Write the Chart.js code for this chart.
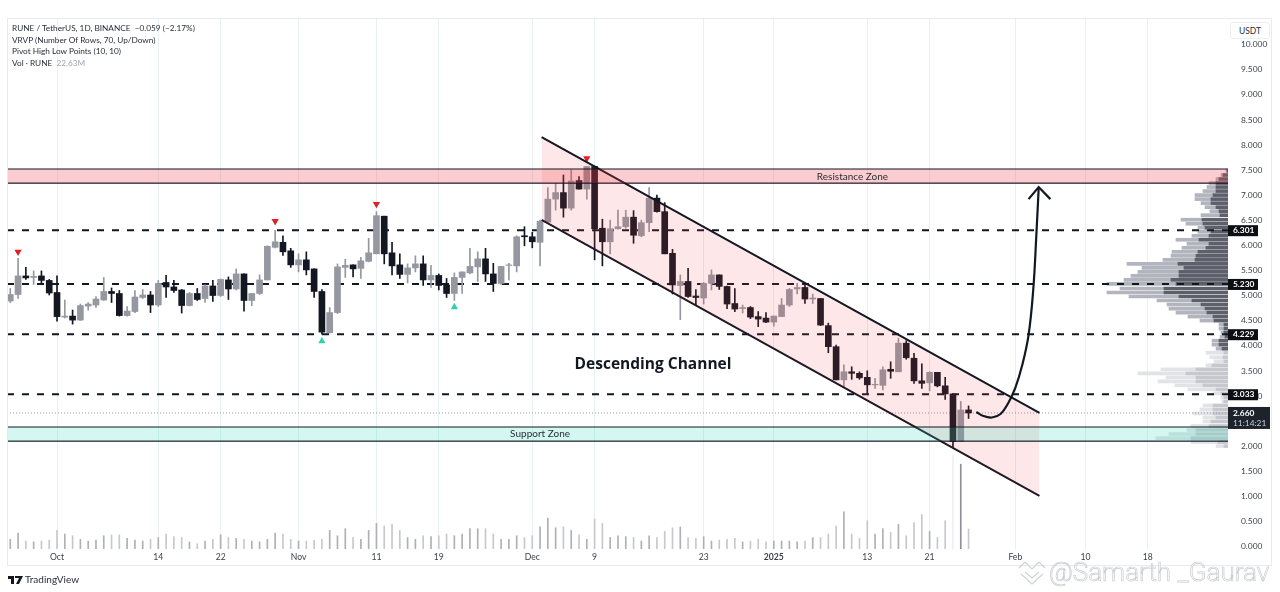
<!DOCTYPE html>
<html>
<head>
<meta charset="utf-8">
<title>RUNE / TetherUS</title>
<script src="https://cdn.jsdelivr.net/npm/chart.js@4/dist/chart.umd.js"></script>
<style>
  html, body { margin: 0; padding: 0; background: #fff; }
  #wrap { position: relative; width: 1280px; height: 592px; overflow: hidden; font-family: Lato, sans-serif; }
  #frame { position: absolute; left: 7px; top: 18px; width: 1265px; height: 548px; border: 1px solid #e9ebef; box-sizing: border-box; }
  #legend { position: absolute; left: 12px; top: 23px; font-size: 8.25px; line-height: 11.7px; color: #2a2e39; }
  #legend span { color: #a3a6af; }
  #unit { position: absolute; left: 1230px; top: 22px; width: 40px; height: 17px; box-sizing: border-box; border: 1px solid #eceef2; border-radius: 3px; background: #fff;
          font-size: 8.5px; line-height: 17px; text-align: center; color: #2a2e39; }
  #brand { position: absolute; left: 8px; top: 573px; font-size: 10px; line-height: 12px; color: #2a2e39; }
  #brand svg { vertical-align: -1px; margin-right: 2px; }
  #mark { position: absolute; left: 1049px; top: 555px; font-family: Roboto, sans-serif; font-weight: 300; font-size: 26px; line-height: 34px;
          color: rgba(255,255,255,.6); -webkit-text-stroke: 0.7px #c9cbd0; white-space: nowrap; }
  #markLogo { position: absolute; left: 1018px; top: 559px; }
</style>
</head>
<body>
<div id="wrap">
  <canvas id="chart" width="1280" height="592"></canvas>
  <div id="frame"></div>
  <div id="legend">
    RUNE / TetherUS, 1D, BINANCE &nbsp;−0.059 (−2.17%)<br>
    VRVP (Number Of Rows, 70, Up/Down)<br>
    Pivot High Low Points (10, 10)<br>
    Vol · RUNE &nbsp;<span>22.63M</span>
  </div>
  <div id="unit">USDT</div>
  <div id="brand"><svg width="15" height="8" viewBox="0 0 15 8"><path d="M0 0h6v8H3V3H0zM7 0h8l-4 8H8l3-6H7z" fill="#131722"/></svg>TradingView</div>
  <svg id="markLogo" width="28" height="26" viewBox="0 0 28 26" fill="none" stroke="#cfd1d5" stroke-width="1.2">
    <path d="M1 9l6-6 7 7 7-7 6 6"/><path d="M7 13l7 6 7-6"/><path d="M3 15l11 10 11-10"/>
  </svg>
  <div id="mark">@Samarth _Gaurav</div>
</div>

<script>
// ── Datos: velas diarias (día 0 = 1 Oct 2024) ─────────────────
const candleDays = [
  -6,-5,-4,-3,-2,-1,
  0,1,2,3,4,5,6,7,8,9,
  10,11,12,13,14,15,16,17,18,19,
  20,21,22,23,24,25,26,27,28,29,
  30,31,32,33,34,35,36,37,38,39,
  40,41,42,43,44,45,46,47,48,49,
  50,51,52,53,54,55,56,57,58,59,
  60,61,62,63,64,65,66,67,68,69,
  70,71,72,73,74,75,76,77,78,79,
  80,81,82,83,84,85,86,87,88,89,
  90,91,92,93,94,95,96,97,98,99,
  100,101,102,103,104,105,106,107,108,109,
  110,111,112,113,114,115,116,117];
const opens = [
  4.89,5.02,5.39,5.36,5.39,5.30,
  5.06,4.57,4.59,4.51,4.79,4.81,4.91,5.08,5.04,4.60,
  4.68,4.96,5.01,4.81,5.26,5.17,5.11,4.80,5.04,4.94,
  5.19,5.00,5.31,5.13,5.43,4.90,5.04,5.31,5.96,6.06,
  5.89,5.61,5.71,5.53,5.08,4.26,4.66,5.56,5.61,5.54,
  5.68,5.83,6.58,5.85,5.61,5.42,5.55,5.63,5.31,5.40,
  5.21,5.04,5.36,5.45,5.57,5.73,5.43,5.24,5.60,5.59,
  6.19,6.17,6.06,6.46,6.92,7.05,6.74,7.29,7.12,7.57,
  6.34,6.07,6.33,6.37,6.56,6.19,6.45,6.94,6.67,5.84,
  5.20,5.28,4.99,4.95,5.24,5.41,5.18,4.84,4.74,4.76,
  4.58,4.55,4.47,4.58,4.81,5.13,5.16,4.93,4.94,4.40,
  3.98,3.32,3.48,3.45,3.37,3.22,3.21,3.53,3.48,4.05,
  3.75,3.30,3.26,3.47,3.20,3.04,2.09,2.72];
const highs = [
  5.14,5.74,5.56,5.49,5.49,5.32,
  5.39,4.91,4.71,4.83,4.86,4.98,5.36,5.15,5.10,4.78,
  5.10,5.12,5.08,5.30,5.40,5.30,5.12,5.06,5.14,5.21,
  5.30,5.33,5.37,5.53,5.43,5.04,5.41,5.99,6.30,6.19,
  5.94,5.83,5.87,5.53,5.12,4.76,5.63,5.72,5.61,5.76,
  6.14,6.67,6.58,6.06,5.83,5.63,5.79,5.79,5.60,5.43,
  5.34,5.45,5.47,5.94,5.87,5.94,5.64,5.58,5.64,6.19,
  6.37,6.26,6.50,7.15,7.23,7.40,7.50,7.37,7.57,7.58,
  6.52,6.50,6.70,6.70,6.69,6.50,7.15,7.00,6.85,5.92,
  5.41,5.54,5.12,5.26,5.51,5.41,5.19,5.14,4.81,4.78,
  4.68,4.66,4.59,4.94,5.14,5.24,5.24,5.03,4.94,4.45,
  4.01,3.62,3.58,3.48,3.50,3.35,3.58,3.68,4.15,4.10,
  3.85,3.64,3.48,3.47,3.37,3.04,2.89,2.80];
const lows = [
  4.86,4.94,5.32,5.22,5.23,5.01,
  4.49,4.55,4.43,4.50,4.71,4.76,4.90,4.86,4.59,4.59,
  4.66,4.94,4.66,4.78,4.96,5.06,4.65,4.79,4.90,4.86,
  4.88,4.98,4.92,5.11,4.69,4.80,5.02,5.31,5.95,5.80,
  5.56,5.47,5.41,4.96,4.23,4.25,4.64,5.36,5.37,5.34,
  5.67,5.83,5.63,5.41,5.34,5.25,5.47,5.20,5.16,5.11,
  4.96,4.90,5.04,5.43,5.28,5.28,5.08,5.22,5.31,5.47,
  5.99,5.95,5.59,6.45,6.70,6.56,6.70,7.12,6.92,5.71,
  5.59,5.83,6.32,6.34,6.04,6.17,6.27,6.66,5.83,5.03,
  4.52,4.96,4.81,4.83,5.11,5.12,4.74,4.68,4.65,4.54,
  4.38,4.46,4.39,4.58,4.78,5.03,4.84,4.84,4.40,3.86,
  3.32,3.18,3.33,3.33,3.05,3.15,3.12,3.35,3.48,3.73,
  3.25,3.15,3.10,3.18,2.93,1.99,2.09,2.55];
const closes = [
  5.02,5.39,5.35,5.38,5.30,5.05,
  4.58,4.59,4.51,4.80,4.83,4.93,5.08,5.04,4.60,4.69,
  4.97,5.01,4.81,5.24,5.17,5.10,4.80,5.04,4.92,5.19,
  5.00,5.32,5.13,5.43,4.90,5.04,5.31,5.98,6.07,5.87,
  5.61,5.71,5.51,5.08,4.27,4.66,5.57,5.60,5.53,5.69,
  5.85,6.59,5.83,5.59,5.42,5.55,5.63,5.31,5.40,5.20,
  5.04,5.36,5.47,5.58,5.73,5.43,5.24,5.58,5.61,6.17,
  6.17,6.07,6.48,6.92,7.05,6.74,7.28,7.12,7.57,6.33,
  6.07,6.33,6.37,6.56,6.20,6.45,6.94,6.67,5.83,5.21,
  5.28,4.98,4.96,5.24,5.41,5.18,4.83,4.73,4.76,4.57,
  4.53,4.47,4.59,4.81,5.12,5.16,4.93,4.95,4.41,3.98,
  3.32,3.48,3.45,3.36,3.22,3.23,3.52,3.49,4.05,3.76,
  3.30,3.25,3.47,3.20,3.04,2.09,2.72,2.66];
const volumes = [
  11,18,9,8,9,10,
  21,17,15,11,9,10,15,16,16,12,
  10,9,11,13,17,14,13,8,6,9,
  11,16,13,12,11,9,8,11,18,17,
  11,9,9,10,11,21,15,23,13,11,
  21,29,26,28,21,13,11,15,14,15,
  17,15,17,23,23,23,17,11,11,15,
  13,15,25,35,24,25,21,16,11,34,
  29,13,15,14,13,9,15,13,20,24,
  25,13,12,14,9,10,11,12,8,9,
  11,8,9,9,9,8,9,13,13,17,
  26,42,17,12,32,17,23,19,28,15,
  30,39,20,13,32,106,96,22.63];

// ── Perfil de volumen (VRVP) ──────────────────────────────────
const vpPrices = [
  2.00,2.08,2.16,2.24,2.32,2.40,2.49,2.57,2.65,2.73,
  2.81,2.89,2.97,3.05,3.13,3.21,3.29,3.37,3.45,3.53,
  3.61,3.69,3.77,3.86,3.94,4.02,4.10,4.18,4.26,4.34,
  4.42,4.50,4.58,4.66,4.74,4.82,4.90,4.98,5.06,5.14,
  5.23,5.31,5.39,5.47,5.55,5.63,5.71,5.79,5.87,5.95,
  6.03,6.11,6.19,6.27,6.35,6.43,6.51,6.60,6.68,6.76,
  6.84,6.92,7.00,7.08,7.16,7.24,7.32,7.40,7.48];
const vpInner = [
  4,10,37,32,32,19,17,12,15,15,
  15,4,4,7,12,25,32,32,42,32,
  16,4,5,4,6,9,9,3,4,4,
  4,14,15,21,23,27,36,49,64,64,
  52,57,49,49,44,50,33,32,30,22,
  19,29,19,17,23,25,26,8,9,12,
  17,17,15,12,12,12,9,5,1];
const vpOuter = [
  8,27,35,27,9,18,8,13,20,13,
  10,2,3,8,28,28,38,30,48,35,
  6,10,13,18,6,7,7,5,3,5,
  5,14,25,31,36,34,35,50,57,44,
  69,47,48,41,42,51,32,25,26,24,
  22,23,17,13,7,17,21,19,9,11,
  10,16,18,13,9,7,3,2,1];

// ── Niveles, zonas y anotaciones ──────────────────────────────
const dayMin = -6.42;
const dayMax = 150.3;
const dashedLevels = [6.301, 5.23, 4.229, 3.033];
const lastPrice = 2.66;
const lastCountdown = '11:14:21';
const resistanceZone = [7.24, 7.52];
const supportZone = [2.10, 2.38];
const channelDays = [62.2, 126.1];
const channelTop = [8.157, 2.66];
const channelBottom = [6.504, 1.006];
const arrowDays = [118.0, 118.9, 120.0, 121.1, 122.1, 123.0, 123.9, 124.7, 125.3, 125.7, 126.0];
const arrowPrices = [2.68, 2.60, 2.57, 2.64, 2.86, 3.16, 3.62, 4.21, 5.11, 6.2, 7.14];
const arrowHeadDays = [124.7, 126.0, 127.5];
const arrowHeadPrices = [6.92, 7.16, 6.92];
const pivotHighDays = [-5, 28, 41, 68];
const pivotHighPrices = [5.87, 6.48, 6.82, 7.73];
const pivotLowDays = [34, 51];
const pivotLowPrices = [4.09, 4.77];

const tickDays = [0, 13, 21, 31, 41, 49, 61, 69, 83, 92, 104, 112, 123, 132, 140];
const tickLabels = ['Oct', '14', '22', 'Nov', '11', '19', 'Dec', '9', '23', '2025', '13', '21', 'Feb', '10', '18'];
const priceTicks = [0, 0.5, 1, 1.5, 2, 2.5, 3, 3.5, 4, 4.5, 5, 5.5, 6, 6.5, 7, 7.5, 8, 8.5, 9, 9.5, 10];

const chartTexts = [
  { text: 'Descending Channel', day: 76.5, price: 3.62, font: 'bold 15.5px "Open Sans"', color: '#131722' },
  { text: 'Resistance Zone', day: 102.1, price: 7.37, font: '10px Lato', color: '#2a2e39' },
  { text: 'Support Zone', day: 62.0, price: 2.24, font: '10px Lato', color: '#2a2e39' },
];

// ── Colores ───────────────────────────────────────────────────
const UP_COLOR = '#9598a1';
const DOWN_COLOR = '#131722';
const LINE_COLOR = '#131722';

const isUp = i => closes[i] >= opens[i];
const candleColor = ctx => isUp(ctx.dataIndex) ? UP_COLOR : DOWN_COLOR;

function volumeColor(ctx) {
  const i = ctx.dataIndex;
  if (volumes[i] > 100 && !isUp(i)) return '#eeeff1';
  if (volumes[i] > 90) return '#8f9197';
  return isUp(i) ? '#aeb0b6' : '#c6c8cd';
}

const vpInnerColor = ctx => vpPrices[ctx.dataIndex] >= 3.94 ? '#5d606b' : '#c6c8cd';
const vpOuterColor = ctx => vpPrices[ctx.dataIndex] >= 3.94 ? '#b2b5be' : '#e2e3e7';

// ── Helpers ───────────────────────────────────────────────────
function hLine(price, extra) {
  return Object.assign({
    type: 'line',
    data: [{ x: dayMin, y: price }, { x: dayMax, y: price }],
    borderColor: LINE_COLOR,
    borderWidth: 1.2,
    pointRadius: 0,
    fill: false,
  }, extra);
}

function path(days, prices) {
  return days.map((d, i) => ({ x: d, y: prices[i] }));
}

function pivotSet(days, prices, color, rotation) {
  return {
    type: 'scatter',
    data: path(days, prices),
    pointStyle: 'triangle',
    pointRadius: 4.2,
    pointRotation: rotation,
    backgroundColor: color,
    borderColor: color,
    borderWidth: 0,
    order: 12,
  };
}

// ── Etiquetas de precio y textos sobre la gráfica ─────────────
const annotationsPlugin = {
  id: 'annotations',
  afterDraw(chart) {
    const { ctx, scales } = chart;
    const yScale = scales.y;
    const xScale = scales.x;
    ctx.save();
    ctx.textBaseline = 'middle';

    chartTexts.forEach(t => {
      ctx.font = t.font;
      ctx.fillStyle = t.color;
      ctx.textAlign = 'center';
      ctx.fillText(t.text, xScale.getPixelForValue(t.day), yScale.getPixelForValue(t.price));
    });

    ctx.textAlign = 'left';
    dashedLevels.forEach(level => {
      const py = yScale.getPixelForValue(level);
      ctx.fillStyle = '#0c0e13';
      ctx.fillRect(xScale.right, py - 5, 30, 11);
      ctx.fillStyle = '#fff';
      ctx.font = 'bold 8.4px Lato';
      ctx.fillText(level.toFixed(3), xScale.right + 5, py + 0.5);
    });

    const py = yScale.getPixelForValue(lastPrice);
    ctx.fillStyle = '#1e222d';
    ctx.fillRect(xScale.right, py - 6, 42, 22);
    ctx.fillStyle = '#fff';
    ctx.font = 'bold 8.4px Lato';
    ctx.fillText(lastPrice.toFixed(3), xScale.right + 5, py);
    ctx.fillStyle = '#c9ccd3';
    ctx.font = '8.4px Lato';
    ctx.fillText(lastCountdown, xScale.right + 5, py + 10);
    ctx.restore();
  },
};

// ── Datasets ──────────────────────────────────────────────────
const datasets = [
  // volumen
  {
    type: 'bar',
    data: candleDays.map((d, i) => ({ x: d, y: volumes[i] })),
    yAxisID: 'yVol',
    grouped: false,
    barThickness: 1,
    backgroundColor: volumeColor,
    order: 30,
  },
  // perfil de volumen, de derecha a izquierda
  {
    type: 'bar',
    indexAxis: 'y',
    data: vpPrices.map((p, i) => ({ x: [0, vpInner[i]], y: p })),
    xAxisID: 'xVP',
    grouped: false,
    barThickness: 3,
    backgroundColor: vpInnerColor,
    order: 29,
  },
  {
    type: 'bar',
    indexAxis: 'y',
    data: vpPrices.map((p, i) => ({ x: [vpInner[i], vpInner[i] + vpOuter[i]], y: p })),
    xAxisID: 'xVP',
    grouped: false,
    barThickness: 3,
    backgroundColor: vpOuterColor,
    order: 29,
  },
  // precio actual y niveles punteados
  hLine(lastPrice, { borderColor: '#9a9ca3', borderWidth: 1, borderDash: [1, 2], order: 25 }),
  ...dashedLevels.map(level => hLine(level, { borderWidth: 2, borderDash: [7, 8], order: 24 })),
  // velas: mecha + cuerpo
  {
    type: 'bar',
    data: candleDays.map((d, i) => ({ x: d, y: [lows[i], highs[i]] })),
    grouped: false,
    barThickness: 1,
    backgroundColor: candleColor,
    order: 20,
  },
  {
    type: 'bar',
    data: candleDays.map((d, i) => ({ x: d, y: [opens[i], closes[i]] })),
    grouped: false,
    barThickness: 6,
    backgroundColor: candleColor,
    order: 19,
  },
  // canal descendente
  {
    type: 'line',
    data: path(channelDays, channelTop),
    borderColor: LINE_COLOR,
    borderWidth: 2,
    pointRadius: 0,
    fill: '+1',
    backgroundColor: 'rgba(242,54,69,0.12)',
    order: 10,
  },
  {
    type: 'line',
    data: path(channelDays, channelBottom),
    borderColor: LINE_COLOR,
    borderWidth: 2,
    pointRadius: 0,
    fill: false,
    order: 10,
  },
  // zonas
  hLine(resistanceZone[1], { fill: '+1', backgroundColor: 'rgba(242,54,69,0.25)', order: 8 }),
  hLine(resistanceZone[0], { order: 8 }),
  hLine(supportZone[1], { fill: '+1', backgroundColor: 'rgba(40,215,185,0.2)', order: 7 }),
  hLine(supportZone[0], { order: 7 }),
  // flecha
  {
    type: 'line',
    data: path(arrowDays, arrowPrices),
    borderColor: LINE_COLOR,
    borderWidth: 2.2,
    pointRadius: 0,
    tension: 0.4,
    fill: false,
    order: 5,
  },
  {
    type: 'line',
    data: path(arrowHeadDays, arrowHeadPrices),
    borderColor: LINE_COLOR,
    borderWidth: 2.2,
    pointRadius: 0,
    fill: false,
    order: 5,
  },
  pivotSet(pivotHighDays, pivotHighPrices, '#e01f26', 180),
  pivotSet(pivotLowDays, pivotLowPrices, '#2fd1b0', 0),
];

// ── Gráfica ───────────────────────────────────────────────────
new Chart(document.getElementById('chart').getContext('2d'), {
  data: { datasets },
  plugins: [annotationsPlugin],
  options: {
    responsive: false,
    animation: false,
    events: [],
    layout: { padding: { left: 7, top: 19, right: 0, bottom: 23 } },
    plugins: { legend: { display: false }, tooltip: { enabled: false } },
    scales: {
      x: {
        type: 'linear',
        min: dayMin,
        max: dayMax,
        offset: false,
        afterBuildTicks: scale => { scale.ticks = tickDays.map(v => ({ value: v })); },
        afterFit: scale => { scale.height = 20; },
        grid: { color: '#e8f0f1', lineWidth: 1, drawTicks: false, offset: false },
        border: { display: false },
        ticks: {
          autoSkip: false,
          maxRotation: 0,
          padding: 3,
          color: '#3a3e4a',
          font: ctx => ({ family: 'Lato', size: 8.6, weight: ctx.tick && ctx.tick.value === 92 ? 'bold' : 'normal' }),
          callback: (v, i) => tickLabels[i],
        },
      },
      y: {
        type: 'linear',
        position: 'right',
        offset: false,
        min: -0.05,
        max: 10.508,
        afterBuildTicks: scale => { scale.ticks = priceTicks.map(v => ({ value: v })); },
        afterFit: scale => { scale.width = 52; },
        grid: { display: false, offset: false },
        border: { display: false },
        ticks: {
          autoSkip: false,
          padding: 5,
          color: '#3a3e4a',
          font: { family: 'Lato', size: 8.4 },
          callback: v => Number(v).toFixed(3),
        },
      },
      yVol: { type: 'linear', axis: 'y', display: false, min: 0, max: 600 },
      xVP: { type: 'linear', axis: 'x', display: false, min: 0, max: 1221, reverse: true },
    },
  },
});
</script>
</body>
</html>
